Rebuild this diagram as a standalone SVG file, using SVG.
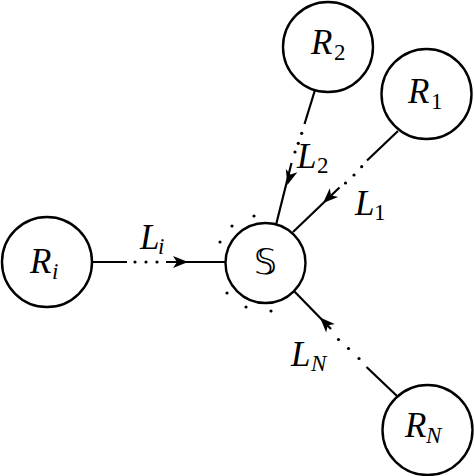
<svg xmlns="http://www.w3.org/2000/svg" xmlns:xlink="http://www.w3.org/1999/xlink" width="474" height="476" viewBox="0 0 474 476">
<style>
.node{fill:#fff;stroke:#000;stroke-width:2.4}
.ln{stroke:#000;stroke-width:2.2;fill:none}
.dot{fill:#000}
.m{font-family:"Liberation Serif","DejaVu Serif",serif;font-style:italic;font-size:35px;fill:#000}
.sub{font-family:"Liberation Serif","DejaVu Serif",serif;font-size:23px;fill:#000}
.subi{font-family:"Liberation Serif","DejaVu Serif",serif;font-style:italic;font-size:23px;fill:#000}
</style>
<defs>
<path id="ah" d="M0,0 L-15,-6 L-11,0 L-15,6 Z" fill="#000"/>
</defs>
<rect width="474" height="476" fill="#fff"/>
<g id="connectors">
<line class="ln" x1="92" y1="262" x2="127" y2="262"/>
<circle class="dot" cx="135" cy="262" r="1.6"/><circle class="dot" cx="146" cy="262" r="1.6"/><circle class="dot" cx="157" cy="262" r="1.6"/>
<line class="ln" x1="166" y1="262" x2="226" y2="262"/>
<use xlink:href="#ah" transform="translate(188,262)"/>

<line class="ln" x1="315" y1="90" x2="304.5" y2="124"/>
<circle class="dot" cx="301.7" cy="133.3" r="1.6"/><circle class="dot" cx="298.3" cy="143.3" r="1.6"/><circle class="dot" cx="295" cy="152" r="1.6"/>
<line class="ln" x1="291.5" y1="163" x2="276" y2="225"/>
<use xlink:href="#ah" transform="translate(287.4,185) rotate(106.2)"/>

<line class="ln" x1="398" y1="131" x2="367" y2="160.5"/>
<circle class="dot" cx="361.7" cy="166.7" r="1.6"/><circle class="dot" cx="354" cy="175" r="1.6"/><circle class="dot" cx="345.5" cy="183" r="1.6"/>
<line class="ln" x1="339.5" y1="187.5" x2="293" y2="232"/>
<use xlink:href="#ah" transform="translate(323.1,203) rotate(136.1)"/>

<line class="ln" x1="293" y1="290" x2="331" y2="329"/>
<circle class="dot" cx="338.5" cy="339.5" r="1.6"/><circle class="dot" cx="348.5" cy="348.5" r="1.6"/><circle class="dot" cx="359" cy="358.5" r="1.6"/>
<line class="ln" x1="366.5" y1="367" x2="397" y2="396"/>
<use xlink:href="#ah" transform="translate(320,317.5) rotate(225.8)"/>
</g>
<g id="S">
<circle class="node" cx="265.5" cy="263" r="40"/>
<text x="265.5" y="274" text-anchor="middle" font-family="DejaVu Sans, sans-serif" font-size="36">𝕊</text>
<circle class="dot" cx="254" cy="216" r="1.6"/><circle class="dot" cx="232" cy="226" r="1.6"/><circle class="dot" cx="220" cy="242" r="1.6"/>
<circle class="dot" cx="227" cy="293" r="1.6"/><circle class="dot" cx="246" cy="307" r="1.6"/><circle class="dot" cx="271" cy="311" r="1.6"/>
</g>
<g id="Ri">
<circle class="node" cx="47" cy="262" r="45"/>
<text class="m" x="30" y="273">R</text><text class="subi" x="52" y="279">i</text>
</g>
<g id="R2">
<circle class="node" cx="328" cy="47" r="45"/>
<text class="m" x="311" y="54">R</text><text class="sub" x="334" y="60">2</text>
</g>
<g id="R1">
<circle class="node" cx="426.5" cy="94" r="45"/>
<text class="m" x="408" y="103">R</text><text class="sub" x="431" y="109">1</text>
</g>
<g id="RN">
<circle class="node" cx="427.5" cy="430" r="45"/>
<text class="m" x="405" y="437">R</text><text class="subi" x="426" y="443">N</text>
</g>
<g id="labels">
<text class="m" x="140" y="249">L</text><text class="subi" x="158" y="254">i</text>
<text class="m" x="297" y="168">L</text><text class="sub" x="317" y="173">2</text>
<text class="m" x="355" y="215">L</text><text class="sub" x="374" y="220">1</text>
<text class="m" x="291" y="366">L</text><text class="subi" x="311" y="371">N</text>
</g>
</svg>
